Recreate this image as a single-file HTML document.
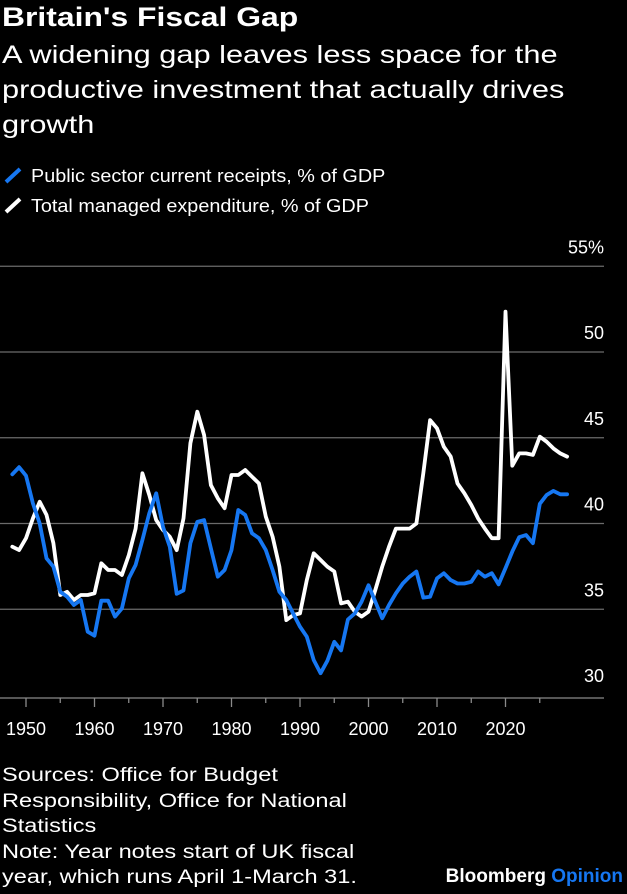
<!DOCTYPE html>
<html><head><meta charset="utf-8"><style>
html,body{margin:0;padding:0;background:#000;}
body{width:627px;height:894px;position:relative;overflow:hidden;font-family:"Liberation Sans",sans-serif;color:#fff;}
.t{position:absolute;left:2px;white-space:nowrap;transform-origin:0 0;}
</style></head><body>
<div class="t" style="top:2px;font-size:27px;font-weight:bold;transform:scaleX(1.18);">Britain's Fiscal Gap</div>
<div class="t" style="top:38px;font-size:25px;line-height:35px;transform:scaleX(1.23);">A widening gap leaves less space for the<br>productive investment that actually drives<br>growth</div>
<div class="t" style="top:165px;font-size:18px;"><svg width="24" height="20" style="vertical-align:-3px"><line x1="4" y1="17" x2="18" y2="4" stroke="#1677f2" stroke-width="4"/></svg> <span style="display:inline-block;transform:scaleX(1.1);transform-origin:0 0;">Public sector current receipts, % of GDP</span></div>
<div class="t" style="top:195px;font-size:18px;"><svg width="24" height="20" style="vertical-align:-3px"><line x1="4" y1="17" x2="18" y2="4" stroke="#fff" stroke-width="4"/></svg> <span style="display:inline-block;transform:scaleX(1.1);transform-origin:0 0;">Total managed expenditure, % of GDP</span></div>
<svg id="chart" width="627" height="770" style="position:absolute;left:0;top:0"></svg>
<div class="t" style="top:763px;font-size:19px;line-height:25.5px;transform:scaleX(1.24);">Sources: Office for Budget<br>Responsibility, Office for National<br>Statistics<br>Note: Year notes start of UK fiscal<br>year, which runs April 1-March 31.</div>
<div style="position:absolute;right:4px;top:866px;font-size:19px;font-weight:bold;white-space:nowrap;">Bloomberg <span style="color:#1677f2">Opinion</span></div>
<script>
const years=[];for(let y=1948;y<=2029;y++)years.push(y);
const receipts=[42.87,43.28,42.79,41.18,40.0,37.97,37.48,36.02,35.73,35.25,35.54,33.69,33.46,35.5,35.5,34.57,35.05,36.8,37.58,39.04,40.6,41.76,39.8,38.65,35.9,36.1,38.85,40.1,40.2,38.55,36.9,37.29,38.45,40.79,40.5,39.43,39.14,38.45,37.29,36.02,35.54,34.76,33.98,33.4,32.04,31.27,32.0,33.1,32.6,34.4,34.76,35.44,36.4,35.44,34.47,35.25,35.93,36.5,36.9,37.2,35.68,35.73,36.8,37.1,36.7,36.5,36.5,36.6,37.2,36.9,37.1,36.45,37.4,38.36,39.2,39.33,38.85,41.14,41.66,41.9,41.7,41.7];
const expenditure=[38.65,38.45,39.14,40.3,41.27,40.5,38.85,35.83,36.02,35.54,35.83,35.83,35.93,37.68,37.29,37.29,37.0,38.16,39.7,42.93,41.66,40.2,39.62,39.23,38.45,40.3,44.68,46.52,45.16,42.24,41.47,40.89,42.83,42.83,43.12,42.73,42.34,40.4,39.23,37.48,34.37,34.66,34.76,36.7,38.26,37.87,37.48,37.2,35.34,35.44,34.86,34.57,34.86,36.12,37.48,38.65,39.7,39.7,39.7,40.0,42.93,46.03,45.55,44.48,43.9,42.34,41.76,41.08,40.3,39.7,39.14,39.14,52.35,43.37,44.09,44.09,44.0,45.06,44.77,44.38,44.09,43.9];
const yTicks=[30,35,40,45,50,55];
const yTickLabels=["30","35","40","45","50","55%"];
const xTicks=[1950,1960,1970,1980,1990,2000,2010,2020];
const NS="http://www.w3.org/2000/svg";
const svg=document.getElementById('chart');
const xs=y=>26+(y-1950)*6.85;
const ys=v=>695-(v-30)*17.15;
function mk(t,a){const e=document.createElementNS(NS,t);for(const k in a)e.setAttribute(k,a[k]);svg.appendChild(e);return e;}
yTicks.forEach((v,i)=>{
  if(v>30){const g=mk('line',{x1:0,x2:604,y1:ys(v),y2:ys(v),stroke:'#6b6b6b','stroke-width':1.3});
  
  }
  const t=mk('text',{x:604,y:ys(v)-13,'text-anchor':'end','font-size':18,fill:'#fff','font-family':'Liberation Sans, sans-serif'});
  t.textContent=yTickLabels[i];
  
  
});
const ax=mk('line',{x1:0,x2:604,y1:ys(30)+3,y2:ys(30)+3,stroke:'#8a8a8a','stroke-width':1.3});


for(let y=1950;y<=2025;y+=5){
  const major=y%10===0;
  const tk=mk('line',{x1:xs(y),x2:xs(y),y1:ys(30)+3,y2:ys(30)+(major?12:8),stroke:'#8a8a8a','stroke-width':1.3});
  
  
}
xTicks.forEach(y=>{
  const t=mk('text',{x:xs(y),y:735,'text-anchor':'middle','font-size':18,fill:'#fff','font-family':'Liberation Sans, sans-serif'});
  t.textContent=y;
  
  
});
function line(data,color,name){
  const d=data.map((v,i)=>(i?'L':'M')+xs(years[i]).toFixed(1)+','+ys(v).toFixed(1)).join('');
  const p=mk('path',{d:d,fill:'none',stroke:color,'stroke-width':3.8,'stroke-linejoin':'round','stroke-linecap':'round'});
  
  
}
line(expenditure,'#ffffff','expenditure-line');
line(receipts,'#1677f2','receipts-line');
</script>
</body></html>
